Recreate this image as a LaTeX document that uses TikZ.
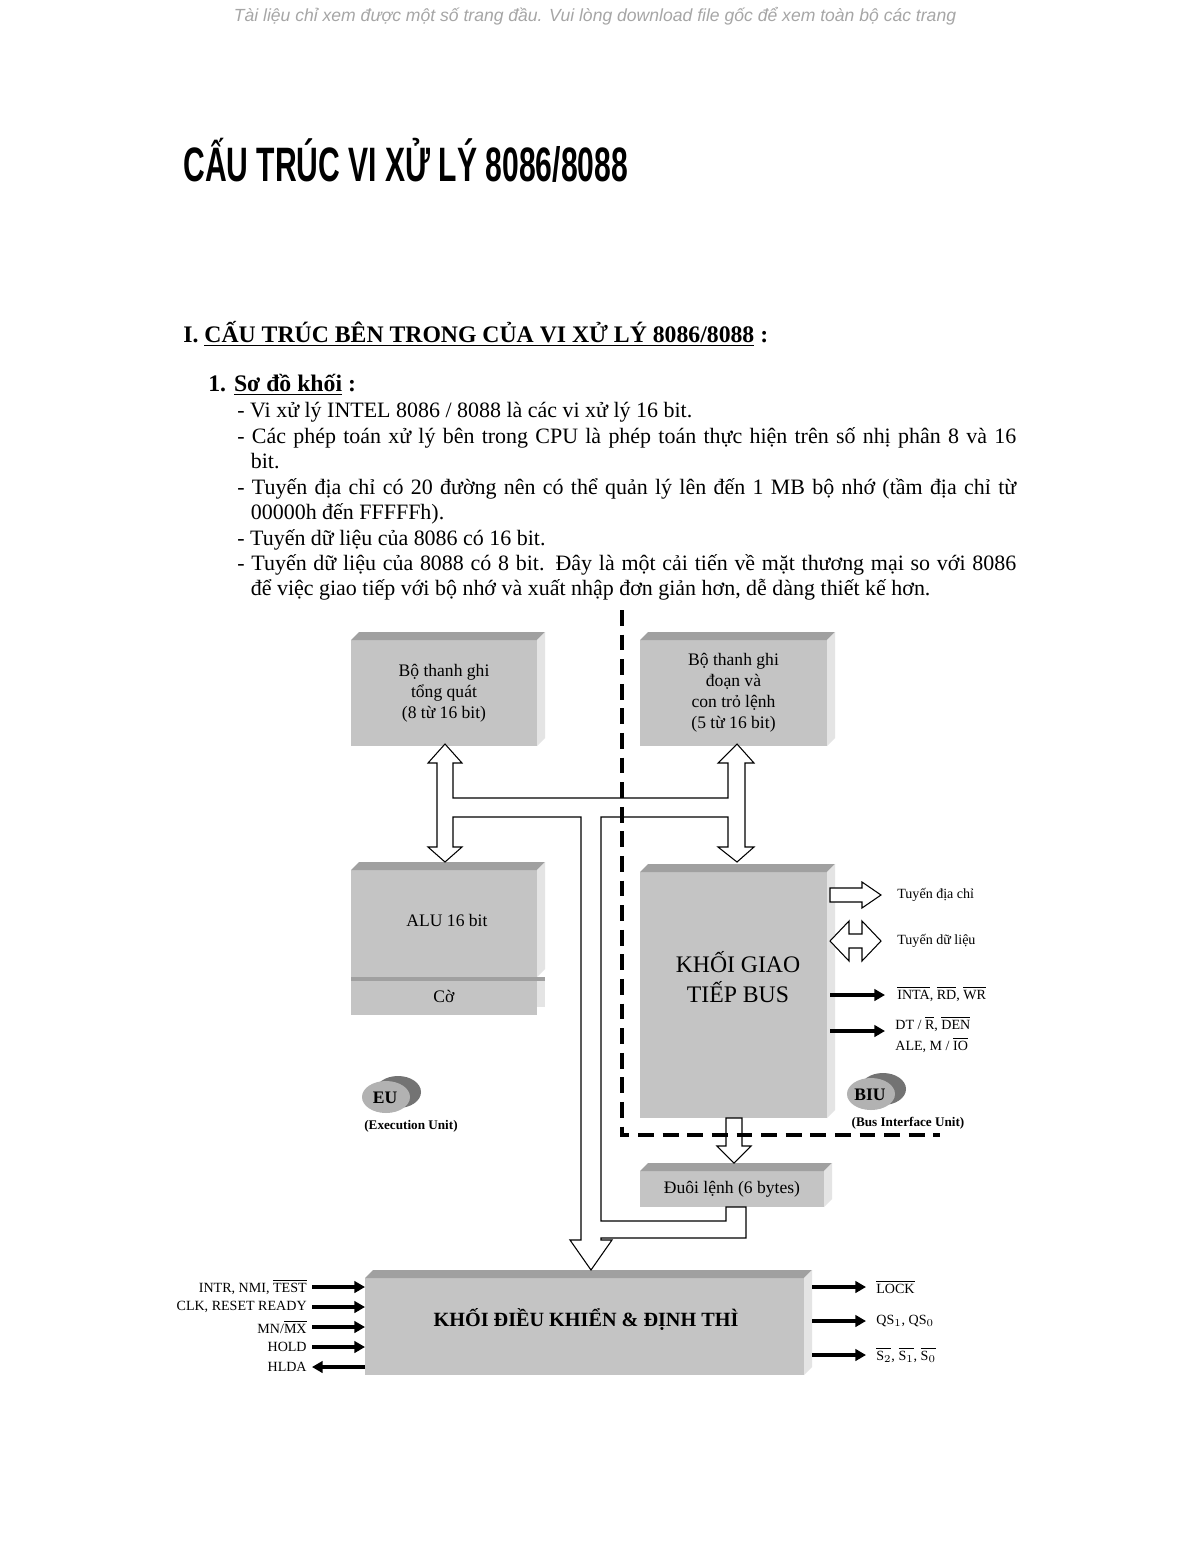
\documentclass[tikz,border=0pt]{standalone}
\usepackage{fontspec}
\setmainfont{Liberation Serif}
\newfontfamily\hsans{Liberation Sans}
\usetikzlibrary{arrows.meta,shapes.geometric}
\definecolor{boxmain}{HTML}{C4C4C4}
\definecolor{boxtop}{HTML}{A0A0A0}
\definecolor{boxside}{HTML}{E4E4E4}
\newcommand\bevbox[5]{%
 \fill[boxmain] (#2,#3+8) rectangle (#4-8,#5);
 \fill[boxtop] (#2,#3+8) -- (#2+8,#3) -- (#4,#3) -- (#4-8,#3+8) -- cycle;
 \fill[boxside] (#4-8,#3+8) -- (#4,#3) -- (#4,#5-8) -- (#4-8,#5) -- cycle;
 \coordinate (#1) at ({(#2+#4-8)/2},{(#3+8+#5)/2});}
\begin{document}
\begin{tikzpicture}[x=0.02cm,y=-0.02cm,
  lbl/.style={font=\fontsize{10}{12}\selectfont,align=center,inner sep=0},
  sig/.style={font=\fontsize{8}{10}\selectfont,inner sep=0},
  thick arrow/.style={line width=1.8pt,-{Triangle[length=6pt,width=6.5pt]}},
  hollow/.style={draw=black,fill=white,line width=0.6pt},
  dsh/.style={line width=1.8pt,dash pattern=on 9pt off 5pt}]
\useasboundingbox (0,0) rectangle (1200,1553);
\fill[white] (0,0) rectangle (1200,1553);
% header
\node[font=\hsans\itshape\fontsize{10}{12}\selectfont,text=black!35] (wm) at (595,16) {Tài liệu chỉ xem được một số trang đầu. Vui lòng download file gốc để xem toàn bộ các trang};
\node[anchor=west,inner sep=0] (title) at (183,160) {\scalebox{0.685}[1.1]{\hsans\bfseries\fontsize{25}{28}\selectfont CẤU TRÚC VI XỬ LÝ 8086/8088}};
\node[anchor=west,inner sep=0,font=\bfseries\fontsize{13.5}{16}\selectfont] (h1) at (183,334) {I. \underline{CẤU TRÚC BÊN TRONG CỦA VI XỬ LÝ 8086/8088} :};
\node[anchor=west,inner sep=0,font=\bfseries\fontsize{13.5}{16}\selectfont] (h2) at (208,385) {1. \underline{Sơ đồ khối} :};
\node[anchor=north west,inner sep=0,text width=15.58cm,align=justify,font=\fontsize{12.5}{14.5}\selectfont] (body) at (237,402) {%
\hangindent=0.27cm\hangafter=1 - Vi xử lý INTEL 8086 / 8088 là các vi xử lý 16 bit.\par
\hangindent=0.27cm\hangafter=1 - Các phép toán xử lý bên trong CPU là phép toán thực hiện trên số nhị phân 8 và 16\linebreak bit.\par
\hangindent=0.27cm\hangafter=1 - Tuyến địa chỉ có 20 đường nên có thể quản lý lên đến 1 MB bộ nhớ (tầm địa chỉ từ\linebreak 00000h đến FFFFFh).\par
\hangindent=0.27cm\hangafter=1 - Tuyến dữ liệu của 8086 có 16 bit.\par
\hangindent=0.27cm\hangafter=1 - Tuyến dữ liệu của 8088 có 8 bit. Đây là một cải tiến về mặt thương mại so với 8086\linebreak để việc giao tiếp với bộ nhớ và xuất nhập đơn giản hơn, dễ dàng thiết kế hơn.\par};
% boxes
\bevbox{gr}{351}{632}{545}{746}
\bevbox{sr}{640}{632}{835}{746}
\bevbox{alu}{351}{862}{545}{977}
\fill[boxmain] (351,977) rectangle (537,1015);
\fill[boxside] (537,977) rectangle (545,1007);
\fill[boxtop] (351,977) rectangle (545,981);
\coordinate (co) at (444,996);
\bevbox{biu}{640}{864}{835}{1118}
\bevbox{queue}{640}{1163}{832}{1207}
\bevbox{ctl}{365}{1270}{812}{1375}
\node[lbl] (grt) at (gr) {Bộ thanh ghi\\tổng quát\\(8 từ 16 bit)};
\node[lbl] (srt) at (sr) {Bộ thanh ghi\\đoạn và\\con trỏ lệnh\\(5 từ 16 bit)};
\node[lbl] (alut) at (447,920) {ALU 16 bit};
\node[lbl] (cot) at (co) {Cờ};
\node[lbl,font=\fontsize{13.5}{17}\selectfont] (biut) at (738,977) {KHỐI GIAO\\TIẾP BUS};
\node[lbl] (qt) at (queue) {Đuôi lệnh (6 bytes)};
\node[lbl,font=\bfseries\fontsize{11.5}{14}\selectfont] (ctlt) at (586,1319) {KHỐI ĐIỀU KHIỂN \& ĐỊNH THÌ};
% internal bus
\draw[hollow] (445,744) -- (462,763) -- (453,763) -- (453,798) -- (728,798) -- (728,763) -- (718,763) -- (737,744) -- (754,763) -- (745,763) -- (745,847) -- (754,847) -- (737,862) -- (718,847) -- (728,847) -- (728,817) -- (601,817) -- (601,1221) -- (726,1221) -- (726,1207) -- (746,1207) -- (746,1238) -- (601,1238) -- (601,1240) -- (612,1240) -- (591,1270) -- (570,1240) -- (581,1240) -- (581,817) -- (453,817) -- (453,847) -- (462,847) -- (445,862) -- (428,847) -- (437,847) -- (437,763) -- (428,763) -- cycle;
\fill[boxmain] (641,1199) rectangle (823,1206);
% BIU -> queue
\draw[hollow] (726,1118) -- (742,1118) -- (742,1146) -- (751,1146) -- (734,1163) -- (717,1146) -- (726,1146) -- cycle;
% dashed divider
\draw[dsh] (622,610) -- (622,1135) -- (940,1135);
% BIU outputs
\draw[hollow] (830,888) -- (862,888) -- (862,882) -- (881,895) -- (862,908) -- (862,902) -- (830,902) -- cycle;
\draw[hollow] (830,941) -- (849,921) -- (849,934) -- (862,934) -- (862,921) -- (881,941) -- (862,961) -- (862,948) -- (849,948) -- (849,961) -- cycle;
\node[sig,anchor=west] (ad) at (897,895) {Tuyến địa chỉ};
\node[sig,anchor=west] (da) at (897,941) {Tuyến dữ liệu};
\coordinate (b1s) at (830,995); \coordinate (b1e) at (885,995);
\coordinate (b2s) at (830,1031); \coordinate (b2e) at (885,1031);
\draw[thick arrow] (b1s) -- (b1e);
\draw[thick arrow] (b2s) -- (b2e);
\node[sig,anchor=west] (s1) at (897,994) {$\overline{\mbox{INTA}}$, $\overline{\mbox{RD}}$, $\overline{\mbox{WR}}$};
\node[sig,anchor=west] (s2) at (895,1024) {DT / $\overline{\mbox{R}}$, $\overline{\mbox{DEN}}$};
\node[sig,anchor=west] (s3) at (895,1045) {ALE, M / $\overline{\mbox{IO}}$};
% EU / BIU badges
\fill[black!55] (398,1092) ellipse (23 and 16);
\fill[black!30] (386,1097) ellipse (24 and 16);
\node[font=\bfseries\fontsize{10}{12}\selectfont,inner sep=0] (eu) at (385,1098) {EU};
\node[font=\bfseries\fontsize{7.5}{9}\selectfont,inner sep=0] (eul) at (411,1126) {(Execution Unit)};
\fill[black!55] (883,1089) ellipse (23 and 16);
\fill[black!30] (871,1094) ellipse (24 and 16);
\node[font=\bfseries\fontsize{10}{12}\selectfont,inner sep=0] (biub) at (870,1095) {BIU};
\node[font=\bfseries\fontsize{7.5}{9}\selectfont,inner sep=0] (biul) at (908,1123) {(Bus Interface Unit)};
% control inputs
\foreach \y/\t/\n in {1287/{INTR, NMI, $\overline{\mbox{TEST}}$}/a,1307/{CLK, RESET READY}/b,1327/{MN/$\overline{\mbox{MX}}$}/c,1347/{HOLD}/d}{
  \coordinate (in\n) at (312,\y); \coordinate (ie\n) at (365,\y);
  \draw[thick arrow] (in\n) -- (ie\n);
  \node[sig,anchor=east] (lt\n) at (307,\y) {\t};}
\coordinate (ine) at (312,1367); \coordinate (iee) at (365,1367);
\draw[thick arrow] (iee) -- (ine);
\node[sig,anchor=east] (lte) at (307,1367) {HLDA};
\foreach \y/\t/\n in {1287/{$\overline{\mbox{LOCK}}$}/a,1321/{QS$_1$, QS$_0$}/b,1355/{$\overline{\mbox{S}_2}$, $\overline{\mbox{S}_1}$, $\overline{\mbox{S}_0}$}/c}{
  \coordinate (os\n) at (812,\y); \coordinate (oe\n) at (866,\y);
  \draw[thick arrow] (os\n) -- (oe\n);
  \node[sig,anchor=west] (ot\n) at (876,\y) {\t};}
\end{tikzpicture}
\end{document}
